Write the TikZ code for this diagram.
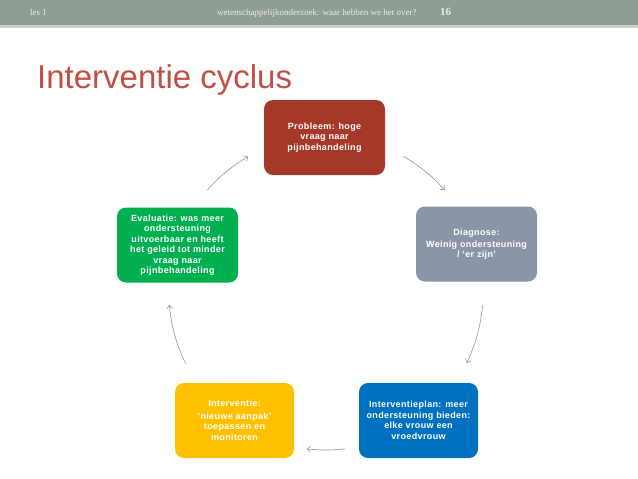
\documentclass[tikz,border=0pt]{standalone}
\usepackage{fontspec}
\setmainfont{Liberation Sans}
\newfontfamily\hdrserif{Liberation Serif}
\newfontfamily\boxfont{Liberation Sans}[LetterSpace=4]
\usetikzlibrary{arrows.meta}
\definecolor{hdr}{RGB}{143,158,146}
\definecolor{hdrline}{RGB}{200,208,202}
\definecolor{hdrtxt}{RGB}{232,236,232}
\definecolor{titlered}{RGB}{192,80,70}
\definecolor{cRed}{RGB}{165,56,40}
\definecolor{cGray}{RGB}{138,150,168}
\definecolor{cBlue}{RGB}{0,112,192}
\definecolor{cYellow}{RGB}{255,192,0}
\definecolor{cGreen}{RGB}{0,176,80}
\definecolor{arrgray}{RGB}{150,150,150}
\tikzset{
  box/.style={rounded corners=9pt, minimum width=121pt, minimum height=75pt,
    text=white, align=center, inner sep=2pt,
    font=\boxfont\bfseries\fontsize{9}{10.5}\selectfont},
  hdrtext/.style={anchor=base west, inner sep=0pt, text=hdrtxt,
    font=\hdrserif\fontsize{9}{11}\selectfont},
  cyc/.style={draw=arrgray, line width=0.6pt, -{Straight Barb[length=3pt,width=6pt]}}
}
\begin{document}
\begin{tikzpicture}[x=1pt,y=-1pt]
\useasboundingbox (0,0) rectangle (638,479);
\fill[white] (0,0) rectangle (638,479);
\fill[hdr] (0,0) rectangle (638,25);
\fill[hdrline] (0,25) rectangle (638,28);
\node[hdrtext] (les) at (30,16) {les 1};
\node[hdrtext] (sub) at (217,16) {wetenschappelijkonderzoek: waar hebben we het over?};
\node[hdrtext, font=\hdrserif\bfseries\fontsize{11}{13}\selectfont] (pg) at (440,16) {16};
\node[anchor=base west, inner sep=0pt, text=titlered, font=\fontsize{33}{36}\selectfont] (title) at (37,88) {Interventie cyclus};

\node[box, fill=cRed] (prob) at (324.5,137.5) {Probleem: hoge\\ vraag naar\\ pijnbehandeling};
\node[box, fill=cGray] (diag) at (476.5,244) {Diagnose:\\[1.5pt] Weinig ondersteuning\\ / ‘er zijn’};
\node[box, fill=cBlue, minimum width=119pt] (plan) at (418.5,420.5) {Interventieplan: meer\\ ondersteuning bieden:\\ elke vrouw een\\ vroedvrouw};
\node[box, fill=cYellow, minimum width=119pt] (interv) at (234.5,420.5) {Interventie:\\[2pt] ‘nieuwe aanpak’\\ toepassen en\\ monitoren};
\node[box, fill=cGreen] (eval) at (177.5,245) {Evaluatie: was meer\\ ondersteuning\\ uitvoerbaar en heeft\\ het geleid tot minder\\ vraag naar\\ pijnbehandeling};

\coordinate (c) at (326,293);
\path (c) ++(60.5:157pt) coordinate (s1);
\path (c) ++(-4.4:157pt) coordinate (s2);
\path (c) ++(-83:157pt) coordinate (s3);
\path (c) ++(-153.3:157pt) coordinate (s4);
\path (c) ++(139.1:157pt) coordinate (s5);
\draw[cyc] (s1) arc[start angle=60.5, end angle=41, radius=157pt];
\draw[cyc] (s2) arc[start angle=-4.4, end angle=-26.4, radius=157pt];
\draw[cyc] (s3) arc[start angle=-83, end angle=-97, radius=157pt];
\draw[cyc] (s4) arc[start angle=-153.3, end angle=-175.6, radius=157pt];
\draw[cyc] (s5) arc[start angle=139.1, end angle=119.7, radius=157pt];
\end{tikzpicture}
\end{document}
